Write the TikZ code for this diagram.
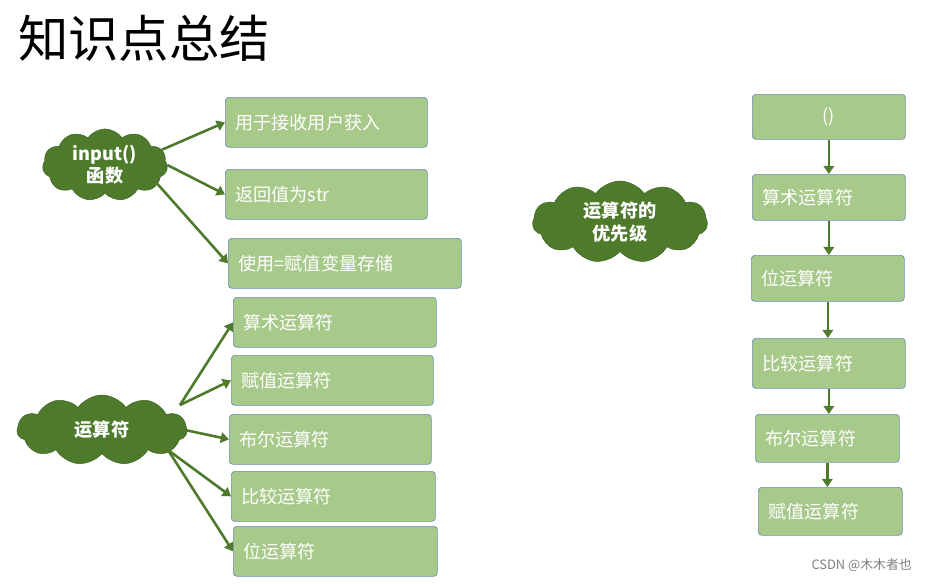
\documentclass[tikz,border=0pt]{standalone}
\usepackage{fontspec}
\setmainfont{Noto Sans CJK SC}
\usetikzlibrary{shapes.symbols,arrows.meta}
\definecolor{boxfill}{HTML}{A7C98A}
\definecolor{boxline}{HTML}{6F8FB0}
\definecolor{dkgreen}{HTML}{4E7A2C}
\tikzset{
 bx/.style args={#1/#2}{draw=boxline,fill=boxfill,rounded corners=3pt,line width=0.6pt,anchor=north west,
   minimum width=#1*0.03cm,minimum height=#2*0.03cm,text width=#1*0.03cm-0.6cm,align=left,inner sep=0.3cm,
   text=white,font=\fontsize{15.5}{18}\selectfont},
 cld/.style={cloud,cloud puffs=11,cloud puff arc=110,fill=dkgreen,draw=dkgreen!80!black,text=white,
   font=\bfseries\fontsize{15.5}{19}\selectfont,align=center,aspect=1.8,inner sep=1pt},
 arr/.style={draw=dkgreen,line width=2.2pt,-{Triangle[length=7pt,width=9pt]}}
}
\begin{document}
\begin{tikzpicture}[x=0.03cm,y=-0.03cm]
\useasboundingbox[fill=white] (0,0) rectangle (931,583);
\node[anchor=west,font=\fontsize{43}{46}\selectfont] (title) at (14,38) {知识点总结};
% left group 1
\node[cld,minimum width=125*0.03cm,minimum height=72*0.03cm] (c1) at (105,165) {input()\\函数};
\node[bx=202/50] (a1) at (225,97) {用于接收用户获入};
\node[bx=202/50] (a2) at (225,169) {返回值为str};
\node[bx=233/50] (a3) at (228,238) {使用=赋值变量存储};
\draw[arr] (c1.15) -- (a1.west);
\draw[arr] (c1.0) -- (a2.west);
\draw[arr] (c1.-20) -- (a3.west);
% left group 2
\node[cld,minimum width=170*0.03cm,minimum height=70*0.03cm] (c2) at (102,430) {运算符};
\node[bx=203/50] (b1) at (233,297) {算术运算符};
\node[bx=202/50] (b2) at (231,355) {赋值运算符};
\node[bx=202/50] (b3) at (229,414) {布尔运算符};
\node[bx=204/50] (b4) at (231,471) {比较运算符};
\node[bx=204/50] (b5) at (233,526) {位运算符};
\coordinate (o1) at (180,405);
\coordinate (o2) at (185,430);
\coordinate (o3) at (168,450);
\draw[arr] (o1) -- (b1.west);
\draw[arr] (o1) -- (b2.west);
\draw[arr] (o2) -- (b3.west);
\draw[arr] (o3) -- (b4.west);
\draw[arr] (o3) -- (b5.west);
% priority
\node[cld,minimum width=175*0.03cm,minimum height=82*0.03cm] (c3) at (620,222) {运算符的\\优先级};
\node[bx=153/45] (p1) at (752,94) {\hfill()\hfill\null};
\node[bx=153/46] (p2) at (752,174) {算术运算符};
\node[bx=153/46] (p3) at (751,255) {位运算符};
\node[bx=153/50] (p4) at (752,338) {比较运算符};
\node[bx=144/48] (p5) at (755,414) {布尔运算符};
\node[bx=144/48] (p6) at (758,487) {赋值运算符};
\draw[arr] (p1.south) -- (p2.north);
\draw[arr] (p2.south) -- (p2.south|-p3.north);
\draw[arr] (p3.south) -- (p3.south|-p4.north);
\draw[arr] (p4.south) -- (p4.south|-p5.north);
\draw[arr] (p5.south) -- (p5.south|-p6.north);
\node[anchor=east,text=gray,font=\fontsize{11}{12}\selectfont] (wm) at (916,565) {CSDN @木木者也};
\end{tikzpicture}
\end{document}
